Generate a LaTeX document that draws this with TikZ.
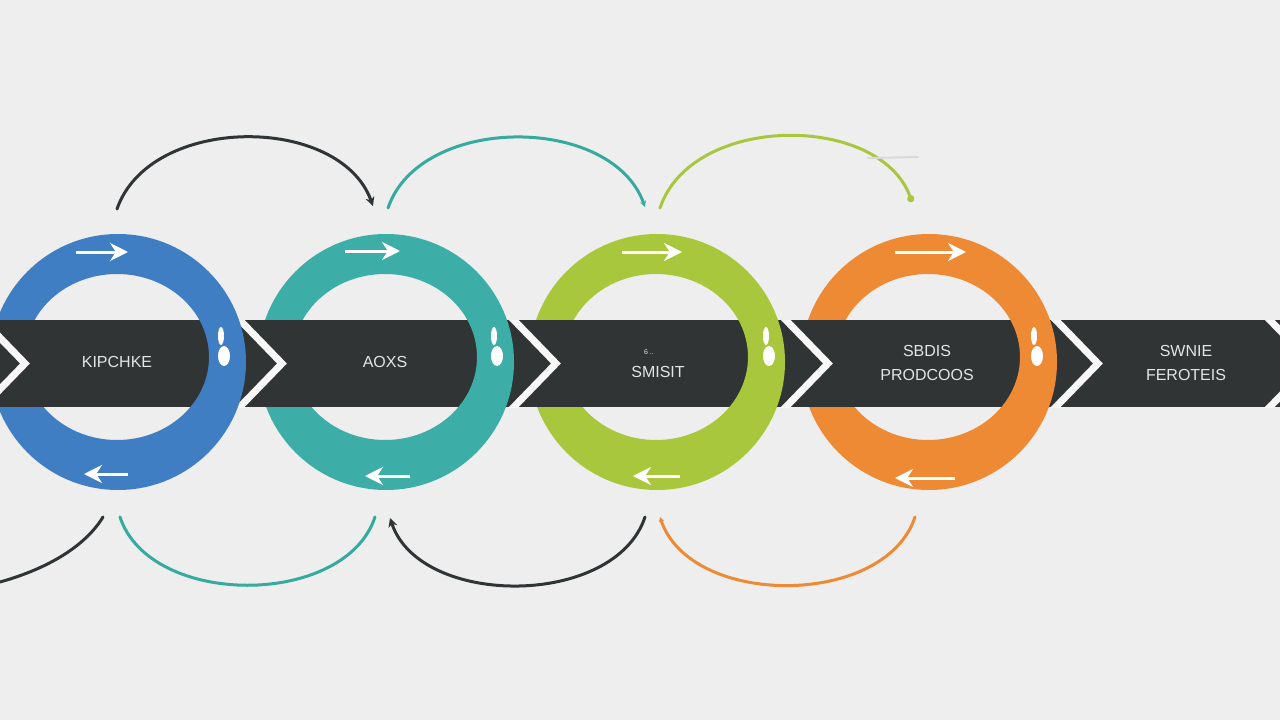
\documentclass[tikz,border=0pt]{standalone}
\usepackage{fontspec}
\setmainfont{Liberation Sans}
\usetikzlibrary{arrows.meta}
\definecolor{bg}{HTML}{EEEEEE}
\definecolor{cblue}{HTML}{3F7EC3}
\definecolor{cteal}{HTML}{3DAEA7}
\definecolor{clime}{HTML}{A8C73C}
\definecolor{corange}{HTML}{EF8A34}
\definecolor{band}{HTML}{313435}
\definecolor{arcdark}{HTML}{2F3436}
\definecolor{arcteal}{HTML}{35AA9E}
\definecolor{gapw}{HTML}{F7F7F7}
\definecolor{txt}{HTML}{E4E4E4}
\tikzset{
  arcline/.style={line width=3pt, line cap=round},
  warrow/.style={draw=white, line width=3pt, -{Stealth[length=18pt,width=18pt]}},
  lbl/.style={text=txt, font=\fontsize{16}{18}\selectfont, inner sep=0pt},
  icon/.style={fill=white},
}
\begin{document}
\begin{tikzpicture}[x=1pt,y=-1pt]
\useasboundingbox (0,0) rectangle (1280,720);
\fill[bg] (0,0) rectangle (1280,720);

% named end points of the arcs
\coordinate (a1s) at (117,209); \coordinate (a1e) at (373,206);
\coordinate (a2s) at (388,208); \coordinate (a2e) at (645,207);
\coordinate (a3s) at (660,208); \coordinate (a3e) at (912,202);
\coordinate (b0s) at (0,582);   \coordinate (b0e) at (103,517);
\coordinate (b1s) at (120,517); \coordinate (b1e) at (375,517);
\coordinate (b2s) at (390,518); \coordinate (b2e) at (645,517);
\coordinate (b3s) at (660,517); \coordinate (b3e) at (915,517);
\coordinate (g1) at (868,158);  \coordinate (g2) at (918,157);

% top arcs
\draw[arcline, arcdark, -{Stealth[length=9pt,width=9pt]}] (a1s) .. controls (150,114) and (340,114) .. (a1e);
\draw[arcline, arcteal, -{Stealth[length=6pt,width=6pt]}] (a2s) .. controls (420,114) and (612,114) .. (a2e);
\draw[arcline, clime, -{Circle[open,length=7pt,width=7pt]}] (a3s) .. controls (692,113) and (880,113) .. (a3e);
\draw[line width=2pt, white!70!gray, line cap=round] (g1) -- (g2);

% bottom arcs
\draw[arcline, arcdark] (b0s) .. controls (50,568) and (86,545) .. (b0e);
\draw[arcline, arcteal] (b1s) .. controls (150,608) and (345,608) .. (b1e);
\draw[arcline, arcdark, {Stealth[length=9pt,width=9pt]}-] (b2s) .. controls (420,608) and (615,608) .. (b2e);
\draw[arcline, corange, {Stealth[length=5pt,width=5pt,fill=red!70!black]}-] (b3s) .. controls (690,608) and (885,608) .. (b3e);

% rings
\foreach \cx/\col in {118/cblue,386/cteal,657/clime,929/corange}{
  \fill[\col, even odd rule] (\cx,362) circle[radius=128] (\cx-1,357) ellipse[x radius=92, y radius=83];
}

% band
\fill[band] (0,320) rectangle (1280,407);
\begin{scope}
  \clip (0,320) rectangle (1280,407);
  \foreach \t in {25,282,556,828,1098,1312}{
    \draw[gapw, line width=7pt, line join=miter] (\t-48,314) -- (\t,363.5) -- (\t-48,413);
  }
  % right halves of rings over the band
  \foreach \cx/\col in {118/cblue,386/cteal,657/clime,929/corange}{
    \begin{scope}
      \clip (\cx+45,300) rectangle (\cx+140,420);
      \fill[\col, even odd rule] (\cx,362) circle[radius=128] (\cx-1,357) ellipse[x radius=92, y radius=83];
    \end{scope}
  }
\end{scope}

% small white marks on the rings
\foreach \ix in {224,497,769,1037}{
  \fill[icon] (\ix,356) ellipse[x radius=6, y radius=10];
  \fill[icon] (\ix-3,336) ellipse[x radius=3, y radius=9];
}

% white arrows on rings
\draw[warrow] (76,252) -- (128,252);
\draw[warrow] (128,474) -- (84,474);
\draw[warrow] (345,251) -- (400,251);
\draw[warrow] (410,476) -- (365,476);
\draw[warrow] (622,252) -- (682,252);
\draw[warrow] (680,476) -- (633,476);
\draw[warrow] (895,252) -- (966,252);
\draw[warrow] (955,478) -- (895,478);

% labels
\node[lbl] (t1) at (117,362) {KIPCHKE};
\node[lbl] (t2) at (385,362) {AOXS};
\node[lbl, font=\fontsize{7}{8}\selectfont] (t3a) at (649,352) {6 ..};
\node[lbl] (t3) at (658,372) {SMISIT};
\node[lbl] (t4a) at (927,351) {SBDIS};
\node[lbl] (t4b) at (927,375) {PRODCOOS};
\node[lbl] (t5a) at (1186,351) {SWNIE};
\node[lbl] (t5b) at (1186,375) {FEROTEIS};
\end{tikzpicture}
\end{document}
